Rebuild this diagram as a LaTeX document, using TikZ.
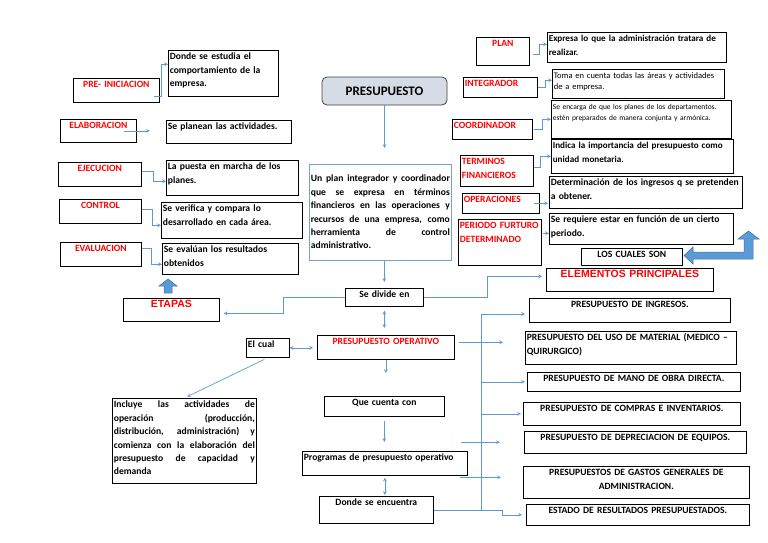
\documentclass[tikz,border=0pt]{standalone}
\usepackage{fontspec}
\setmainfont{Carlito}
\newfontfamily\arialfont{Liberation Sans}
\usepackage{xcolor}
\usepackage{tikz}
\usetikzlibrary{arrows, positioning}

\definecolor{linkblue}{RGB}{91,155,213}
\definecolor{planedge}{RGB}{120,160,205}
\definecolor{titlefill}{RGB}{214,220,229}
\definecolor{titleedge}{RGB}{64,64,64}
\definecolor{blockedge}{RGB}{65,113,156}

\begin{document}
\begin{tikzpicture}[
    x=1pt, y=-1pt,
    font=\bfseries\fontsize{9.6}{13.4}\selectfont,
    box/.style={rectangle, draw, line width=0.7pt, anchor=north west, inner sep=1.5pt, text height=8pt, align=left},
    stage/.style={box, text=red, align=center},
    big label/.style={box, text=red, align=center, font=\arialfont\bfseries\fontsize{10.5}{12}\selectfont},
    title/.style={rectangle, draw=titleedge, fill=titlefill, line width=0.8pt, rounded corners=5pt, minimum width=125pt, minimum height=28pt, font=\bfseries\fontsize{13}{15}\selectfont},
    narrow text/.style={font=\bfseries\fontsize{9.1}{13.4}\selectfont},
    small text/.style={font=\mdseries\fontsize{8.5}{10.7}\selectfont},
    tiny text/.style={font=\mdseries\fontsize{7.5}{10.7}\selectfont},
    sz/.style 2 args={text width=#1pt-3pt, text depth=#2pt-11pt},
    arrow/.style={->, >=stealth, draw=linkblue, line width=0.7pt},
    twoway/.style={<->, >=stealth, draw=linkblue, line width=0.7pt},
    block arrow/.style={fill=linkblue, draw=blockedge, line width=0.5pt}
]
\useasboundingbox (0,0) rectangle (768,543);

% etapas
\node[stage, sz={86}{24}] (preini) at (73,78) {PRE- INICIACION};
\node[box, sz={110}{46}] (estudia) at (168,50) {Donde se estudia el\\comportamiento de la\\empresa.};
\node[stage, sz={76}{23}] (elab) at (60,119) {ELABORACION};
\node[box, sz={125}{23}] (planean) at (166,120) {Se planean las actividades.};
\node[stage, sz={83}{24}] (ejec) at (58,162) {EJECUCION};
\node[box, sz={132}{35}] (puesta) at (166,160) {La puesta en marcha de los\\planes.};
\node[stage, sz={82}{24}] (control) at (59,199) {CONTROL};
\node[box, sz={141}{36}] (verifica) at (161,202) {Se verifica y compara lo\\desarrollado en cada área.};
\node[stage, sz={81}{24}] (evalua) at (60,242) {EVALUACION};
\node[box, sz={136}{31}] (evaluan) at (162,243) {Se evalúan los resultados\\obtenidos};
\node[big label, sz={96}{23}] (etapas) at (123,298) {ETAPAS};

\draw[arrow] ([xshift=-6pt,yshift=6pt]preini.south east) -- +(8,0) |- ([yshift=9pt]estudia.west);
\draw[arrow, shorten >=16pt] ([xshift=-13pt]elab.east) -- (elab.east -| planean.west);
\draw[arrow] ([yshift=3pt]ejec.east) -- +(12,0) |- ([yshift=-3.5pt]puesta.west);
\draw[arrow] ([yshift=2pt]control.east) -- +(11,0) |- ([yshift=-5pt]verifica.west);
\draw[arrow] ([yshift=6pt]evalua.east) -- +(10,0) |- ([yshift=-5.5pt]evaluan.west);
\filldraw[block arrow] (168,279) -- (177,286) -- (172,286) -- (172,293) -- (164,293) -- (164,286) -- (159,286) -- cycle;

% centro
\node[title] (pres) at (384.5,91) {PRESUPUESTO};
\node[box, draw=planedge, align=justify, text width=139pt, text height=16pt, text depth=77pt] (unplan) at (309,164)
    {Un plan integrador y coordinador\linebreak que se expresa en términos\linebreak financieros en las operaciones y\linebreak recursos de una empresa, como\linebreak herramienta de control\linebreak administrativo.};
\node[box, align=center, sz={78}{18}] (divide) at (345,288) {Se divide en};
\node[stage, sz={137}{24}] (presop) at (317,335) {PRESUPUESTO OPERATIVO};
\node[box, sz={43}{19}] (elcual) at (246,338) {El cual};
\node[box, align=justify, sz={144}{85}] (incluye) at (112,398)
    {Incluye las actividades de\linebreak operación (producción,\linebreak distribución, administración) y\linebreak comienza con la elaboración del\linebreak presupuesto de capacidad y\linebreak demanda};
\node[box, align=center, sz={120}{20}] (cuenta) at (324,396) {Que cuenta con};
\node[box, sz={165}{24}] (programas) at (302,451) {Programas de presupuesto operativo};
\node[box, align=center, sz={114}{27}] (donde) at (319,496) {Donde se encuentra};

\draw[arrow, shorten >=16pt] (pres.south) -- (pres.south |- unplan.north);
\draw[arrow, shorten >=6pt] (divide.north |- unplan.south) -- (divide.north);
\draw[twoway, shorten <=4pt, shorten >=7pt] (divide.south) -- (divide.south |- presop.north);
\draw[arrow] (divide.west) -- +(-62,0) |- ([xshift=4pt,yshift=-3.5pt]etapas.east);
\draw[twoway, shorten >=4pt] (elcual.east) -- (elcual.east -| presop.west);
\draw[arrow, shorten <=4pt, shorten >=3pt] (elcual.south) -- (incluye.north);
\draw[arrow, shorten >=23pt] (presop.south) -- (presop.south |- cuenta.north);
\draw[arrow, shorten <=4pt, shorten >=9pt] (cuenta.south) -- (cuenta.south |- programas.north);
\draw[twoway, shorten <=2pt, shorten >=1pt] (programas.south) -- (programas.south |- donde.north);

% caracteristicas
\node[stage, sz={53}{28}] (plan) at (476,37) {PLAN};
\node[box, narrow text, sz={179}{30}] (expresa) at (547,32) {Expresa lo que la administración tratara de\\realizar.};
\node[stage, align=left, sz={74}{20}] (integ) at (463,77) {INTEGRADOR};
\node[box, small text, sz={172}{29}] (toma) at (552,69) {Toma en cuenta todas las áreas y actividades\\de a empresa.};
\node[stage, align=left, sz={80}{20}] (coord) at (452,119) {COORDINADOR};
\node[box, tiny text, sz={180}{38}] (encarga) at (551,100) {Se encarga de que los planes de los departamentos.\\estén preparados de manera conjunta y armónica.};
\node[stage, align=left, sz={73}{31}] (terminos) at (460,155) {TERMINOS\\FINANCIEROS};
\node[box, narrow text, sz={182}{34}] (indica) at (551,139) {Indica la importancia del presupuesto como\\unidad monetaria.};
\node[stage, align=left, sz={77}{20}] (operac) at (462,193) {OPERACIONES};
\node[box, sz={193}{32}] (determ) at (549,176) {Determinación de los ingresos q se pretenden\\a obtener.};
\node[stage, align=left, sz={83}{46}] (periodo) at (458,219) {PERIODO FURTURO\\DETERMINADO};
\node[box, sz={184}{31}] (requiere) at (549,213) {Se requiere estar en función de un cierto\\periodo.};
\node[box, align=center, sz={101}{17}] (cuales) at (581,248) {LOS CUALES SON};

\draw[arrow] ([xshift=3pt,yshift=-3pt]plan.east) -- +(7,0) |- ([yshift=3pt]expresa.west);
\draw[arrow] (integ.east) -- +(8,0) |- ([yshift=3.5pt]toma.west);
\draw[arrow] ([xshift=1pt]coord.east) -- +(9,0) |- (encarga.west);
\draw[arrow] ([yshift=3.5pt]terminos.east) -- +(7,0) |- (indica.west);
\draw[arrow, shorten >=1pt] ([xshift=-6pt]operac.east) -- (operac.east -| determ.west);
\draw[arrow] ([xshift=1pt,yshift=9pt]periodo.east) -- ([yshift=-4.5pt]requiere.west);
\filldraw[block arrow] (684,255.5) -- (693,247) -- (693,252) -- (744,252) -- (744,239) -- (738,239) -- (748.5,231)
    -- (759,239) -- (753,239) -- (753,259) -- (693,259) -- (693,264) -- cycle;

% elementos principales
\node[big label, sz={167}{23}] (elementos) at (546,268) {ELEMENTOS PRINCIPALES};
\node[box, align=center, sz={201}{24}] (ingresos) at (529,298) {PRESUPUESTO DE INGRESOS.};
\node[box, sz={211}{33}] (material) at (525,331) {PRESUPUESTO DEL USO DE MATERIAL (MEDICO –\\QUIRURGICO)};
\node[box, align=center, sz={213}{19}] (manoobra) at (527,372) {PRESUPUESTO DE MANO DE OBRA DIRECTA.};
\node[box, align=center, sz={217}{23}] (compras) at (523,402) {PRESUPUESTO DE COMPRAS E INVENTARIOS.};
\node[box, align=center, sz={222}{22}] (deprec) at (524,431) {PRESUPUESTO DE DEPRECIACION DE EQUIPOS.};
\node[box, align=center, sz={226}{32}] (gastos) at (523,466) {PRESUPUESTOS DE GASTOS GENERALES DE\\ADMINISTRACION.};
\node[box, align=center, sz={223}{21}] (estado) at (526,504) {ESTADO DE RESULTADOS PRESUPUESTADOS.};

\draw[arrow] (divide.east) -- +(64,0) |- ([xshift=-4pt,yshift=3.5pt]elementos.west);
\coordinate (bustop) at (481,314);
\draw[arrow, shorten >=4pt] (donde.east) -| (bustop) -- (bustop -| ingresos.west);
\draw[arrow, shorten >=2pt] (bustop |- manoobra.west) -- (manoobra.west);
\draw[arrow, shorten >=2pt] (bustop |- compras.west) -- (compras.west);
\draw[arrow, shorten >=4pt] (bustop |- donde.east) -- +(21,0) |- (estado.west);
\draw[arrow] ([xshift=4pt,yshift=5pt]presop.east) -- ([xshift=-22pt,yshift=5.5pt]material.west);
\draw[arrow] ([xshift=-63pt]deprec.west) -- ([xshift=-24pt]deprec.west);
\draw[arrow] ([xshift=-63pt,yshift=5pt]gastos.west) -- ([xshift=-22pt,yshift=5pt]gastos.west);

\end{tikzpicture}
\end{document}
